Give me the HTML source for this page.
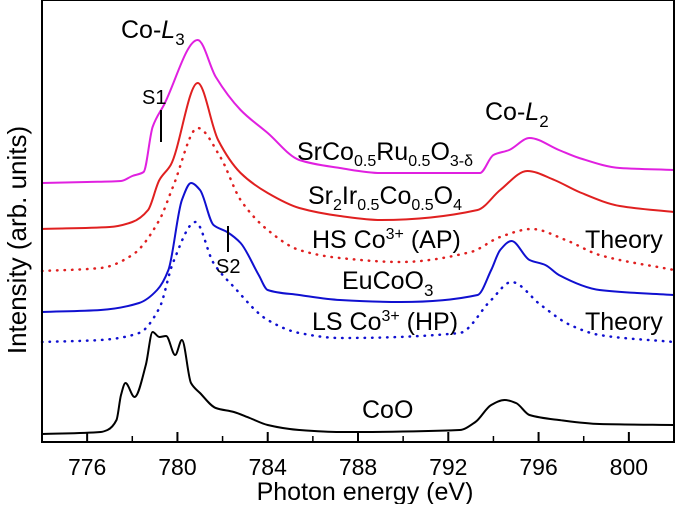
<!DOCTYPE html>
<html><head><meta charset="utf-8"><style>
html,body{margin:0;padding:0;background:#fff;}
svg text{font-family:"Liberation Sans",Arial,sans-serif;fill:#000;}
</style></head><body>
<svg id="chart" width="675" height="504" viewBox="0 0 675 504" xmlns="http://www.w3.org/2000/svg">
<g id="series"></g>
<g id="axes"></g>
<rect x="42" y="0" width="632" height="442" fill="none" stroke="#000" stroke-width="2"/>
<text x="121" y="38" font-size="25">Co-<tspan font-style="italic">L</tspan><tspan font-size="17" dy="7">3</tspan></text>
<text x="485" y="120" font-size="25">Co-<tspan font-style="italic">L</tspan><tspan font-size="17" dy="7">2</tspan></text>
<text x="142" y="104" font-size="20">S1</text>
<line x1="161" y1="110" x2="161" y2="142" stroke="#000" stroke-width="2"/>
<text x="216" y="273" font-size="20">S2</text>
<line x1="228" y1="226" x2="228" y2="252" stroke="#000" stroke-width="2"/>
<text x="297" y="160" font-size="25">SrCo<tspan font-size="16" dy="6">0.5</tspan><tspan dy="-6">Ru</tspan><tspan font-size="16" dy="6">0.5</tspan><tspan dy="-6">O</tspan><tspan font-size="16" dy="6">3-δ</tspan></text>
<text x="308" y="204" font-size="25">Sr<tspan font-size="16" dy="6">2</tspan><tspan dy="-6">Ir</tspan><tspan font-size="16" dy="6">0.5</tspan><tspan dy="-6">Co</tspan><tspan font-size="16" dy="6">0.5</tspan><tspan dy="-6">O</tspan><tspan font-size="16" dy="6">4</tspan></text>
<text x="312" y="248" font-size="25">HS Co<tspan font-size="16" dy="-9">3+</tspan><tspan dy="9"> (AP)</tspan></text>
<text x="585" y="248" font-size="25">Theory</text>
<text x="342" y="289" font-size="25">EuCoO<tspan font-size="17" dy="7">3</tspan></text>
<text x="312" y="330" font-size="25">LS Co<tspan font-size="16" dy="-9">3+</tspan><tspan dy="9"> (HP)</tspan></text>
<text x="585" y="330" font-size="25">Theory</text>
<text x="362" y="418" font-size="25">CoO</text>
<text x="365" y="500" font-size="25" text-anchor="middle">Photon energy (eV)</text>
<text transform="translate(26,240) rotate(-90)" font-size="26" text-anchor="middle">Intensity (arb. units)</text>
</svg>
<script>
const xTicks=[776,780,784,788,792,796,800];
const xMinorTicks=[778,782,786,790,794,798];
const magE=[774,776,777.5,778,778.5,778.9,779.4,780.9,781.7,782.8,784,785.4,787.2,789,793.4,794,794.7,795.6,796.9,797.8,799.6,802];
const magI=[259,260,261,266,270,315,337,402,365,332,309,282,274,269,269,287,292,304,292,284,274,272];
const redE=[774,777,778,778.7,779.2,779.7,780.9,781.8,782.8,784,785.4,787.2,789,793.3,794.3,795.5,796.7,797.8,799.6,802];
const redI=[213,215,220,232,262,277,359,302,269,249,234,226,222,232,252,271,262,250,236,230];
const hsE=[774,776.6,778,779.2,779.8,780.9,781.9,782.8,784,785.4,787.2,789.9,793,794.3,795.7,797.2,798.7,802];
const hsI=[171,174,187,222,255,314,285,242,212,192,184,180,190,205,213,202,187,172];
const euE=[774,776.6,778.3,779.1,779.6,780.2,780.6,781,781.6,782.2,782.8,783.6,784,785.4,787.2,789.9,793.3,793.9,794.3,794.8,795.6,796.3,796.9,798.7,802];
const euI=[130,132,139,152,172,242,259,252,217,210,199,167,152,147,142,140,147,172,192,201,182,177,167,152,147];
const lsE=[774,776.6,778.3,779.2,779.8,780.8,781.6,782.5,784,785.4,787.2,792.5,793.9,794.8,796.1,797.4,798.7,802];
const lsI=[100,102,109,134,179,220,179,155,122,109,104,109,142,160,137,117,107,100];
const cooE=[774,776.6,776.9,777.3,777.5,777.7,778.1,778.6,778.9,779.2,779.5,779.9,780.2,780.6,781,781.7,782.5,783.2,784,785.4,787.2,792.5,793.2,793.9,794.5,795,795.6,796.9,798.7,802];
const cooI=[8,10,12,22,47,59,45,77,110,105,106,87,102,59,49,34,30,24,17,12,10,12,20,37,42,39,27,22,18,17];

const X0=42,X1=674,E0=774,E1=802;
function xScale(e){return X0+(e-E0)*(X1-X0)/(E1-E0);}
function yScale(v){return 442-v;}
function pathFor(E,I){
  const n=E.length;
  const xs=E.map(xScale), ys=I.map(yScale);
  const dx=[],s=[];
  for(let i=0;i<n-1;i++){dx.push(xs[i+1]-xs[i]);s.push((ys[i+1]-ys[i])/dx[i]);}
  const m=new Array(n);
  m[0]=s[0];m[n-1]=s[n-2];
  for(let i=1;i<n-1;i++){
    if(s[i-1]*s[i]<=0)m[i]=0;
    else{const w1=2*dx[i]+dx[i-1],w2=dx[i]+2*dx[i-1];m[i]=(w1+w2)/(w1/s[i-1]+w2/s[i]);}
  }
  let d="M"+xs[0].toFixed(1)+","+ys[0].toFixed(1);
  for(let i=0;i<n-1;i++){
    const h=dx[i];
    d+=" C"+(xs[i]+h/3).toFixed(1)+","+(ys[i]+m[i]*h/3).toFixed(1)+" "+(xs[i+1]-h/3).toFixed(1)+","+(ys[i+1]-m[i+1]*h/3).toFixed(1)+" "+xs[i+1].toFixed(1)+","+ys[i+1].toFixed(1);
  }
  return d;
}
const NS="http://www.w3.org/2000/svg";
const g=document.getElementById('series');
function addLine(E,I,color,dash,name){
  const el=document.createElementNS(NS,'path');
  el.setAttribute('d',pathFor(E,I));
  el.setAttribute('fill','none');
  el.setAttribute('stroke',color);
  el.setAttribute('stroke-width','2');
  if(dash){el.setAttribute('stroke-dasharray','0.5 7');el.setAttribute('stroke-linecap','round');el.setAttribute('stroke-width','2.5');}
  
  
  g.appendChild(el);
}
addLine(magE,magI,'#e020e0',false,'srcoruo-line');
addLine(redE,redI,'#e02020',false,'sririco-line');
addLine(hsE,hsI,'#e02020',true,'hs-theory-line');
addLine(euE,euI,'#1010d0',false,'eucoo3-line');
addLine(lsE,lsI,'#1010d0',true,'ls-theory-line');
addLine(cooE,cooI,'#000',false,'coo-line');

const ax=document.getElementById('axes');
xTicks.forEach(t=>{
  const l=document.createElementNS(NS,'line');
  l.setAttribute('x1',xScale(t));l.setAttribute('x2',xScale(t));
  l.setAttribute('y1',442);l.setAttribute('y2',432);
  l.setAttribute('stroke','#000');l.setAttribute('stroke-width','2');
  
  
  ax.appendChild(l);
  const tx=document.createElementNS(NS,'text');
  tx.setAttribute('x',xScale(t));tx.setAttribute('y',475);
  tx.setAttribute('font-size','23');tx.setAttribute('text-anchor','middle');
  tx.textContent=t;
  
  
  ax.appendChild(tx);
});
xMinorTicks.forEach(t=>{
  const l=document.createElementNS(NS,'line');
  l.setAttribute('x1',xScale(t));l.setAttribute('x2',xScale(t));
  l.setAttribute('y1',442);l.setAttribute('y2',436);
  l.setAttribute('stroke','#000');l.setAttribute('stroke-width','1.5');
  
  
  ax.appendChild(l);
});
</script>
</body></html>
